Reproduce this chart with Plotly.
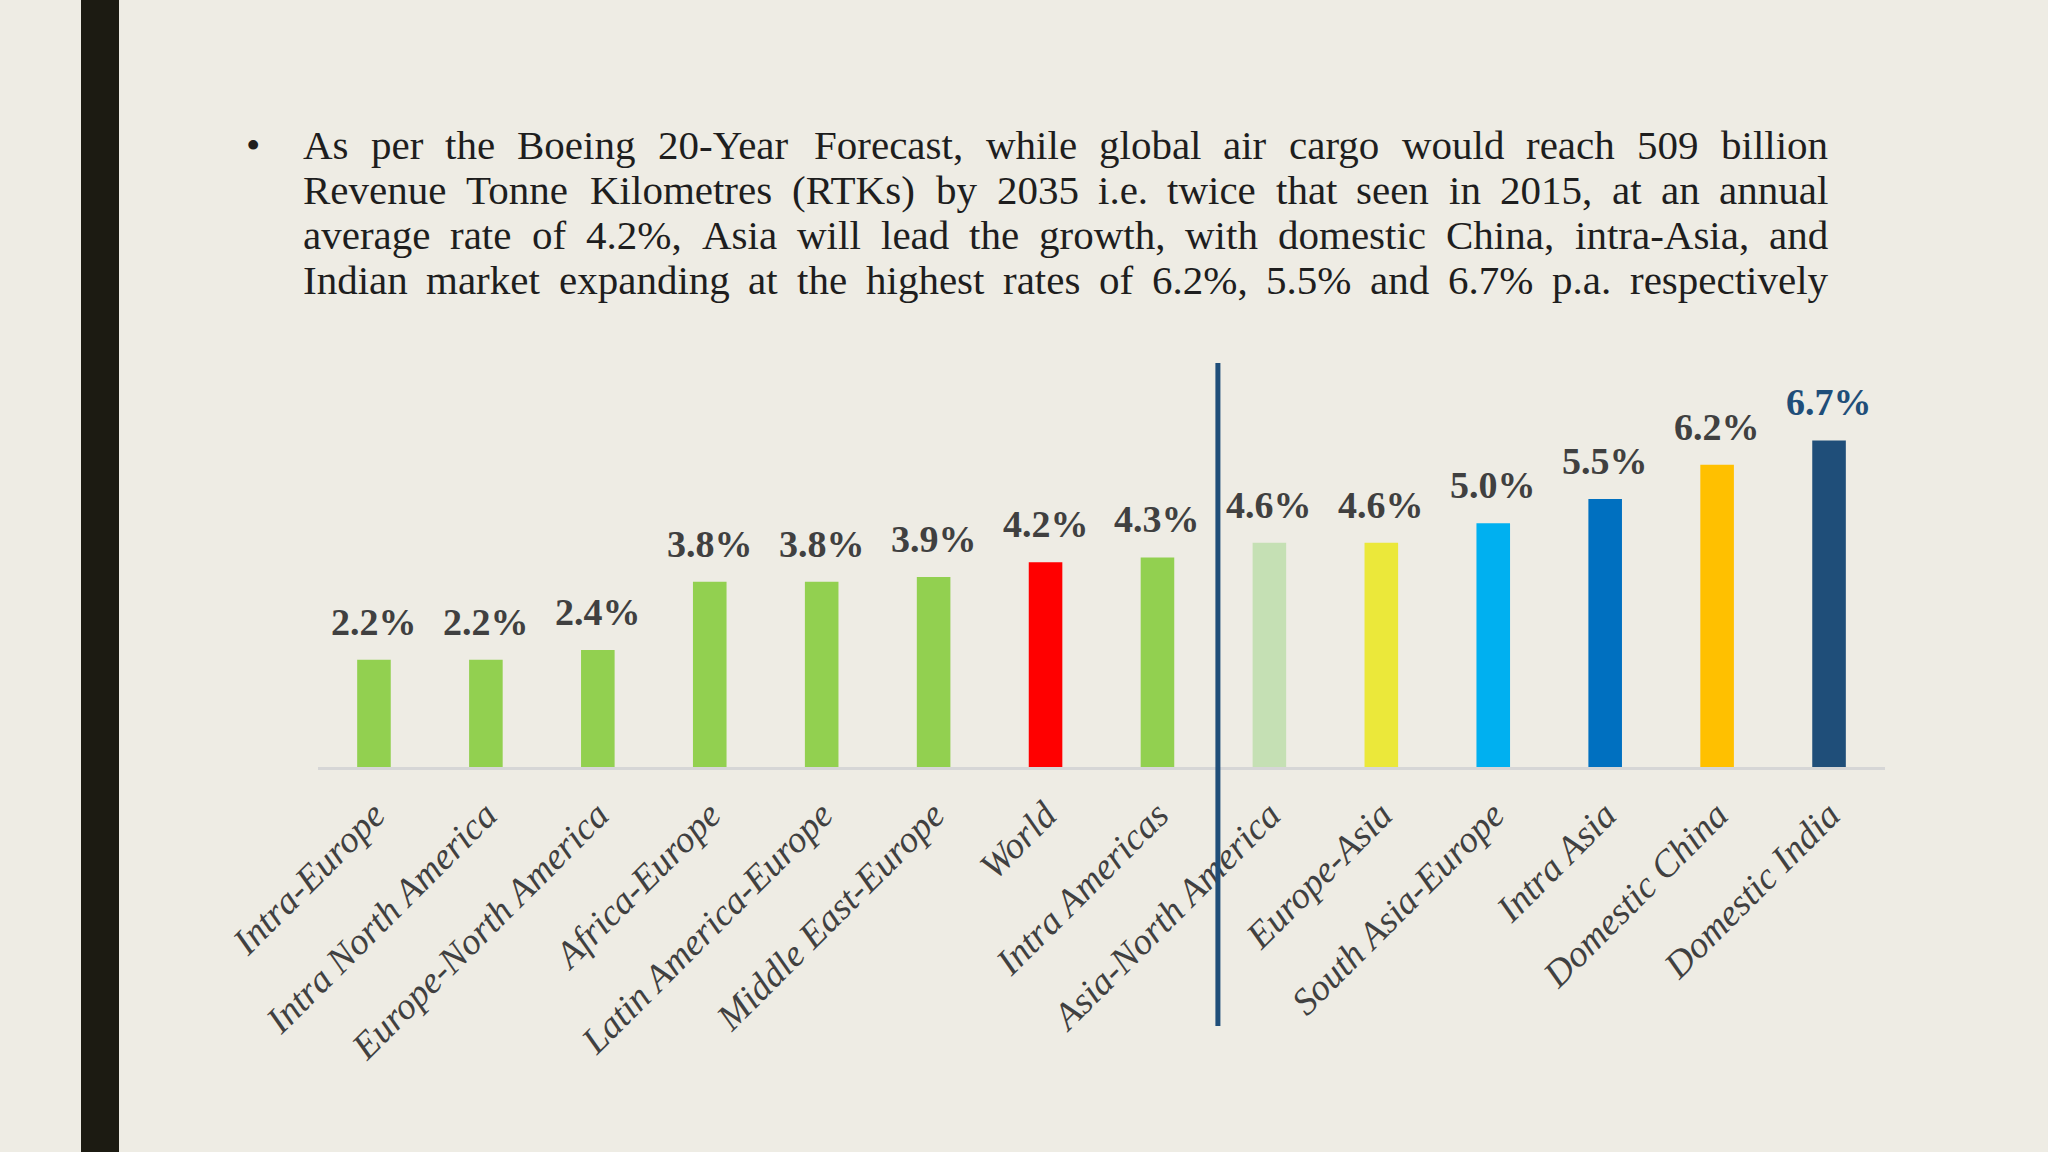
import plotly.graph_objects as go

# ---------------- data ----------------
CATEGORIES = [
    "Intra-Europe", "Intra North America", "Europe-North America", "Africa-Europe",
    "Latin America-Europe", "Middle East-Europe", "World", "Intra Americas",
    "Asia-North America", "Europe-Asia", "South Asia-Europe", "Intra Asia",
    "Domestic China", "Domestic India",
]
GROWTH = [2.2, 2.2, 2.4, 3.8, 3.8, 3.9, 4.2, 4.3, 4.6, 4.6, 5.0, 5.5, 6.2, 6.7]

BAR_COLORS = ["#92D050"] * 6 + ["#FF0000", "#92D050", "#C5E0B4", "#EBE83A",
                                 "#00B0F0", "#0070C0", "#FFC000", "#1F4E79"]
LABEL_COLORS = ["#404040"] * 13 + ["#1F4E79"]

PARAGRAPH_LINES = [
    "As per the Boeing 20-Year Forecast, while global air cargo would reach 509 billion",
    "Revenue Tonne Kilometres (RTKs) by 2035 i.e. twice that seen in 2015, at an annual",
    "average rate of 4.2%, Asia will lead the growth, with domestic China, intra-Asia, and",
    "Indian market expanding at the highest rates of 6.2%, 5.5% and 6.7% p.a. respectively",
]

# ---------------- layout geometry ----------------
W, H = 2048, 1152
ML, MR, MT, MB = 318, 163, 377, 385
PW, PH = W - ML - MR, H - MT - MB
BG = "#EEECE4"
SERIF = "Liberation Serif"


def px_x(px):
    return (px - ML) / PW


def px_y(py):
    return (H - MB - py) / PH


# Times metrics (1/1000 em) for justification of the paragraph
TW = {' ': 250, '!': 333, '%': 833, '(': 333, ')': 333, ',': 250, '-': 333, '.': 250,
      ':': 278, ';': 278, '?': 444,
      'A': 722, 'B': 667, 'C': 667, 'D': 722, 'E': 611, 'F': 556, 'G': 722, 'H': 722,
      'I': 333, 'J': 389, 'K': 722, 'L': 611, 'M': 889, 'N': 722, 'O': 722, 'P': 556,
      'Q': 722, 'R': 667, 'S': 556, 'T': 611, 'U': 722, 'V': 722, 'W': 944, 'X': 722,
      'Y': 722, 'Z': 611,
      'a': 444, 'b': 500, 'c': 444, 'd': 500, 'e': 444, 'f': 333, 'g': 500, 'h': 500,
      'i': 278, 'j': 278, 'k': 500, 'l': 278, 'm': 778, 'n': 500, 'o': 500, 'p': 500,
      'q': 500, 'r': 333, 's': 389, 't': 278, 'u': 500, 'v': 500, 'w': 722, 'x': 500,
      'y': 500, 'z': 444}
for d in "0123456789":
    TW[d] = 500


def text_width(s, size):
    return sum(TW.get(c, 500) for c in s) * size / 1000.0


fig = go.Figure()

fig.add_trace(go.Bar(
    x=CATEGORIES,
    y=GROWTH,
    marker=dict(color=BAR_COLORS, line=dict(width=0)),
    width=0.3,
    hoverinfo="x+y",
))

annotations = []
# value labels above bars
for cat, val, col in zip(CATEGORIES, GROWTH, LABEL_COLORS):
    annotations.append(dict(
        x=cat, y=val, xref="x", yref="y",
        text=f"{val:.1f}%", showarrow=False,
        xanchor="center", yanchor="bottom", yshift=15,
        font=dict(family=SERIF, size=38, color=col, weight="bold"),
    ))

# justified paragraph
FS = 41
LEFT, RIGHT = 303, 1828
LINE_CENTERS = [145, 190, 235, 280]
for line, cy in zip(PARAGRAPH_LINES, LINE_CENTERS):
    words = line.split(" ")
    widths = [text_width(w, FS) for w in words]
    gap = (RIGHT - LEFT - sum(widths)) / (len(words) - 1)
    xcur = LEFT
    for w, ww in zip(words, widths):
        annotations.append(dict(
            x=px_x(xcur - 2), y=px_y(cy), xref="paper", yref="paper",
            text=w, showarrow=False, xanchor="left", yanchor="middle",
            font=dict(family=SERIF, size=FS, color="#1E1E1E"),
        ))
        xcur += ww + gap

annotations.append(dict(
    x=px_x(253), y=px_y(145), xref="paper", yref="paper",
    text="•", showarrow=False, xanchor="center", yanchor="middle",
    font=dict(family=SERIF, size=FS, color="#1E1E1E"),
))

shapes = [
    # dark vertical band on the left
    dict(type="rect", xref="paper", yref="paper",
         x0=px_x(81), x1=px_x(119), y0=px_y(H), y1=px_y(0),
         fillcolor="#1C1B12", line=dict(width=0), layer="below"),
    # separator line between Intra Americas and Asia-North America
    dict(type="line", xref="x", yref="paper",
         x0=7.54, x1=7.54, y0=px_y(1026), y1=px_y(363),
         line=dict(color="#1F4E79", width=5), layer="above"),
]

fig.update_layout(
    width=W, height=H,
    margin=dict(l=ML, r=MR, t=MT, b=MB),
    paper_bgcolor=BG, plot_bgcolor=BG,
    showlegend=False,
    annotations=annotations,
    shapes=shapes,
    xaxis=dict(
        type="category",
        range=[-0.5, len(CATEGORIES) - 0.5],
        showline=True, linecolor="#D6D6D6", linewidth=3,
        showgrid=False, zeroline=False, ticks="",
        tickangle=-45, ticklabelstandoff=8,
        tickfont=dict(family=SERIF, size=37.5, color="#404040", style="italic"),
    ),
    yaxis=dict(
        range=[0, 8], visible=False, showgrid=False, zeroline=False,
    ),
)

fig.write_html("out.html")
